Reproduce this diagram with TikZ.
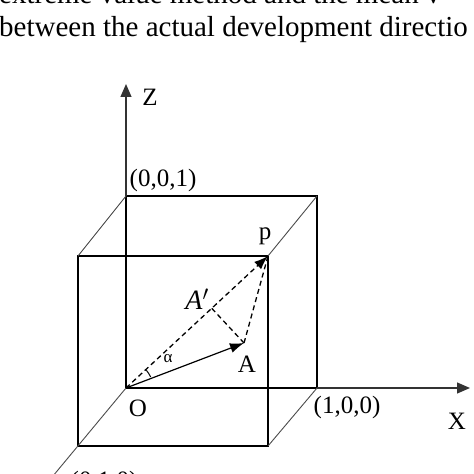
\documentclass[tikz,border=0pt]{standalone}
\usepackage{fontspec}
\newfontfamily\lblfont{Liberation Serif}
\usetikzlibrary{arrows.meta,calc}
\tikzset{
    edge/.style = {
        draw,
        line width=2pt
    },
    depth/.style = {
        draw,
        line width=0.9pt,
        color=black!70
    },
    axis/.style = {
        draw,
        line width=1.2pt,
        color=black!80,
        -{Triangle[length=13pt,width=11pt]}
    },
    vec/.style = {
        draw,
        line width=1.2pt,
        -{Latex[length=14pt,width=10pt]}
    },
    proj/.style = {
        draw,
        line width=1.3pt,
        dash pattern=on 5pt off 3.5pt
    },
    lbl/.style = {
        font=\lblfont\fontsize{25}{28}\selectfont,
        inner sep=0pt
    },
    caption/.style = {
        font=\lblfont\fontsize{29}{32}\selectfont,
        inner sep=0pt,
        anchor=base west
    },
}

\begin{document}
\begin{tikzpicture}[x=1pt,y=1pt]
            \useasboundingbox (0,0) rectangle (474,474);
            \fill[white] (0,0) rectangle (474,474);

            \coordinate (o) at (126,86);
            \coordinate (z1) at (126,278);
            \coordinate (b1) at (317,278);
            \coordinate (x1) at (317,86);
            \coordinate (f0) at (78,28);
            \coordinate (fz) at (78,218);
            \coordinate (p) at (268,218);
            \coordinate (fx) at (268,28);
            \coordinate (ztip) at (126,390);
            \coordinate (xtip) at (470,86);
            \coordinate (yend) at (48,-8);
            \coordinate (a) at (244,131);
            \coordinate (foot) at ($(o)!(a)!(p)$);

            % text of the page above the figure
            \node[caption] (txt1) at (-1,470) {extreme value method and the mean v};
            \node[caption] (txt2) at (-1,437) {between the actual development directio};

            % the two faces
            \path[edge] (o) -- (z1) -- (b1) -- (x1) -- cycle;
            \path[edge] (f0) -- (fz) -- (p) -- (fx) -- cycle;
            \path[depth] (z1) -- (fz);
            \path[depth] (b1) -- (p);
            \path[depth] (x1) -- (fx);
            \path[depth] (o) -- (yend);

            % axes
            \path[axis] (z1) -- (ztip);
            \path[axis] (x1) -- (xtip);

            % vectors
            \path[vec] (o) -- (a);
            \path[proj, -{Latex[length=14pt,width=10pt]}] (o) -- (p);
            \path[proj] (a) -- (p);
            \path[proj] (foot) -- (a);
            \path[draw, line width=1pt] ($(o)+(24:27)$) arc[start angle=24, end angle=41, radius=27];

            \node[lbl] (zlab) at (150,377) {Z};
            \node[lbl] (zone) at (163,294) {(0,0,1)};
            \node[lbl] (plab) at (265,238) {p};
            \node[lbl, font=\lblfont\fontsize{28}{30}\selectfont] (aplab) at (197,175) {\textit{A}$^{\prime}$};
            \node[lbl] (alab) at (247,110) {A};
            \node[lbl, font=\lblfont\fontsize{17}{18}\selectfont] (alpha) at (168,115) {α};
            \node[lbl] (olab) at (138,66) {O};
            \node[lbl] (xone) at (347,67) {(1,0,0)};
            \node[lbl] (xlab) at (457,53) {X};
            \node[lbl] (yone) at (104,-8) {(0,1,0)};
        \end{tikzpicture}
\end{document}
